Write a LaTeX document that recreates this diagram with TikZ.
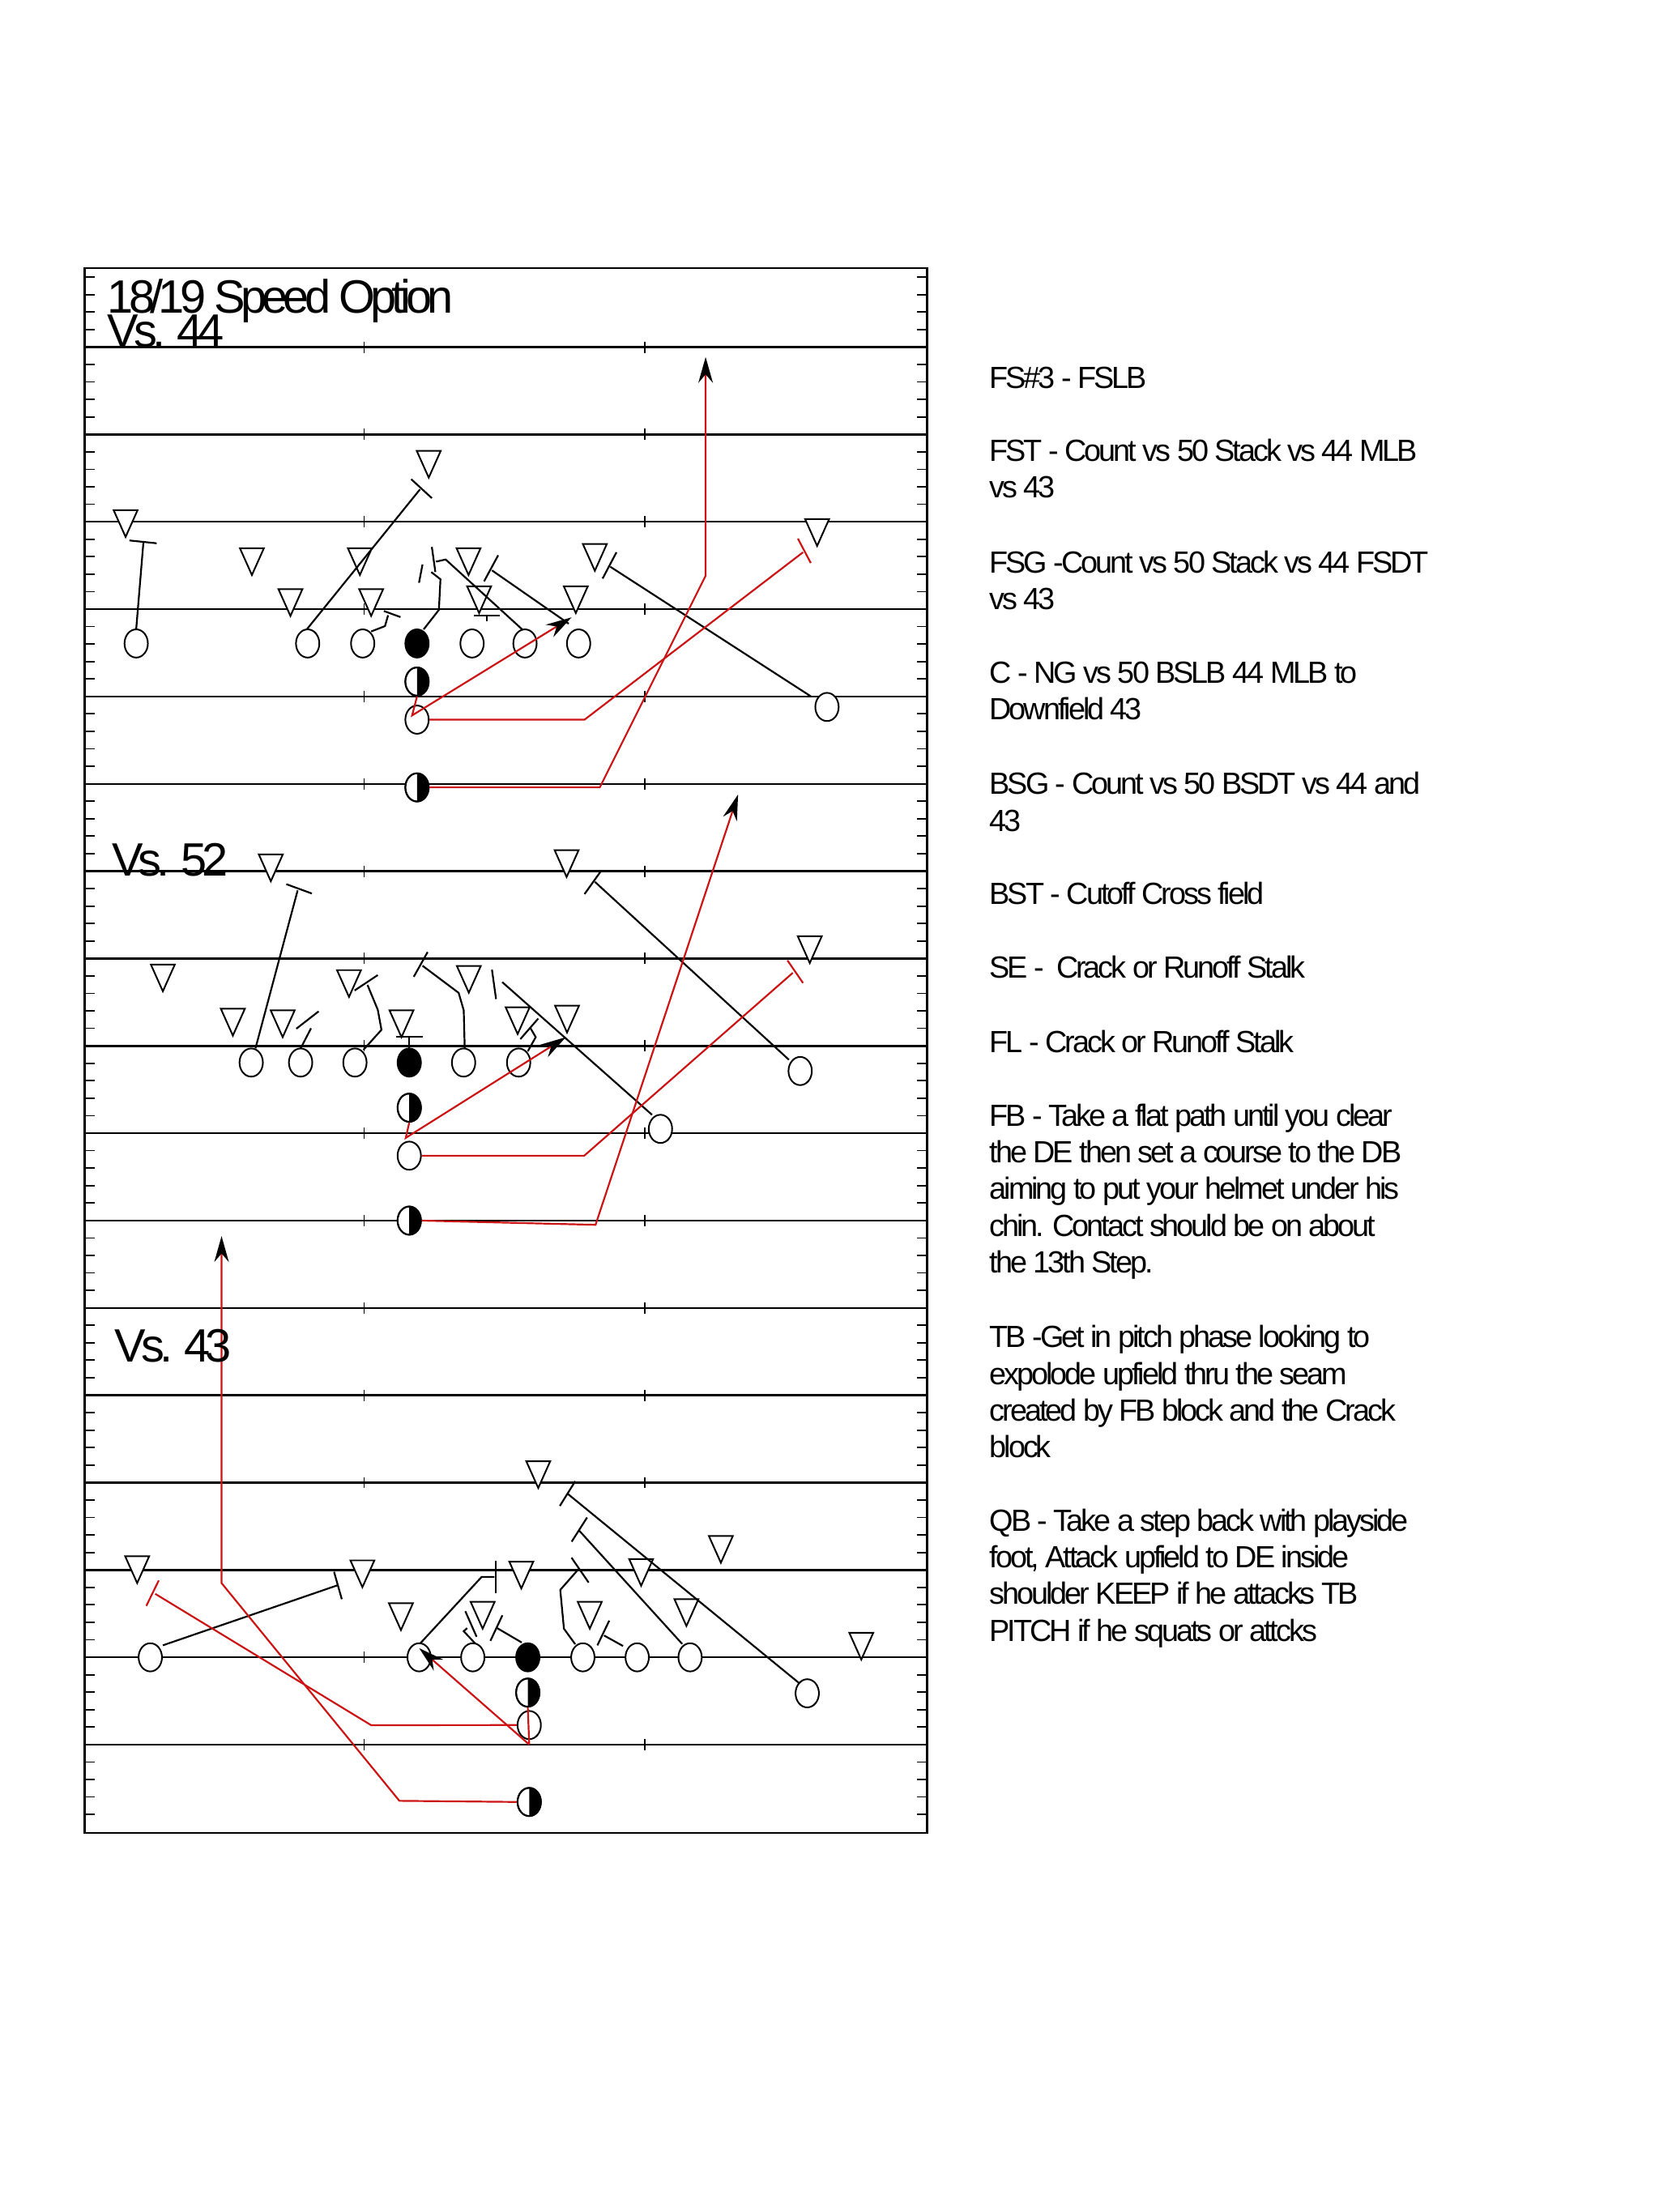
\documentclass[tikz,border=0pt]{standalone}
\usepackage{fontspec}
\setmainfont{Liberation Sans}
\newfontfamily\txtf{Liberation Sans}[LetterSpace=-8]
\newfontfamily\ttlf{Liberation Sans}[LetterSpace=-10]
\usetikzlibrary{shapes.geometric,arrows.meta}
\definecolor{rd}{RGB}{205,20,20}
\begin{document}
\begin{tikzpicture}[x=0.8752pt,y=-0.8752pt,
  pl/.style={ellipse,draw,line width=1pt,minimum width=14.5pt,minimum height=17.5pt,inner sep=0pt,fill=white},
  plf/.style={pl,fill=black},
  blk/.style={line width=1.1pt,black},
  red/.style={line width=1.1pt,rd},
  arr/.style={-{Stealth[length=16pt,width=9pt,black]}},
  txt/.style={anchor=base west,inner sep=0pt,font=\txtf\fontsize{19}{20}\selectfont},
  ttl/.style={anchor=base west,inner sep=0pt,font=\ttlf\fontsize{29}{30}\selectfont}]
\fill[white] (0,0) rectangle (1175.5,1567.6);
\useasboundingbox (0,0) rectangle (1175.5,1567.6);
\newcommand\halfp[3]{\node[pl] (#1) at (#2,#3) {};
  \begin{scope}\clip (#2,#3-12) rectangle (#2+10,#3+12);
  \fill (#1.center) ellipse [x radius=8.3,y radius=10];\end{scope}
  \draw[line width=1pt] (#1.center) ellipse [x radius=8.3,y radius=10];}
% field
\draw[line width=1.2pt] (60,190) rectangle (657,1299);
\foreach \k in {0,...,16}{
  \draw[line width=1.2pt] (60,246+61.9*\k) -- (657,246+61.9*\k);
  \draw[line width=0.9pt] (258,242+61.9*\k) -- (258,250+61.9*\k);
  \draw[line width=0.9pt] (457,242+61.9*\k) -- (457,250+61.9*\k);}
\foreach \k in {0,...,88}{
  \draw[line width=0.9pt] (60,196.4+12.38*\k) -- (67,196.4+12.38*\k);
  \draw[line width=0.9pt] (650,196.4+12.38*\k) -- (657,196.4+12.38*\k);}
% triangles
\newcommand\dtri[2]{\draw[line width=1pt,fill=white] (#1-8.5,#2-9.5) -- (#1+8.5,#2-9.5) -- (#1,#2+9.5) -- cycle;}
\foreach \x/\y in {89/371,303.8/329,178.5/398,255/398,332/398,421.5/395,579/377.4,205.8/427,263/427,339.5/425,408/425,
  191.9/615,401.5/612,573.8/673,115.4/693,247.3/697,332.2/694,165/724.4,200.3/725.5,284.5/725.5,366.8/723.3,401.8/722.2,
  381.4/1045,510.8/1098,97.2/1112.4,256.8/1115.3,369.4/1116.2,454.3/1114.3,284.1/1145.7,342/1144.7,417.9/1144.7,486.4/1142.8,610.3/1166.6}{\dtri{\x}{\y}}
% ===== Vs 44 =====
\draw[blk] (96.5,446) -- (101.6,384.5); \draw[blk] (91.7,383) -- (111,385);
\draw[blk] (217.4,446) -- (297.6,346.8); \draw[blk] (291.4,339.6) -- (306,353);
\draw[blk] (263,447.5) -- (272.8,443.7) -- (275,436); \draw[blk] (272,433) -- (283.8,437.3);
\draw[blk] (300.2,446) -- (311,432.2) -- (312.1,410.5) -- (305.6,405.4); \draw[blk] (299.4,400) -- (296.9,413);
\draw[blk] (370,446) -- (315.8,396.5) -- (309,398); \draw[blk] (306,387.6) -- (308.5,405.4);
\draw[blk] (345,436) -- (345,440); \draw[blk] (336,436) -- (354,436);
\draw[blk] (403,442) -- (348.6,404.2); \draw[blk] (343,412) -- (353,393.5);
\draw[blk] (574.6,493.5) -- (432.4,401.6); \draw[blk] (427,410) -- (436.8,391.4);
\node[pl] (a1) at (96.5,456) {}; \node[pl] (a2) at (218,456) {}; \node[pl] (a3) at (257,456) {};
\node[plf] (a4) at (295.5,456) {}; \node[pl] (a5) at (334.5,456) {}; \node[pl] (a6) at (372,456) {};
\node[pl] (a7) at (410,456) {}; \halfp{aq}{295.5}{483} \node[pl] (af) at (295.5,510) {};
\halfp{at}{295.5}{558} \node[pl] (afl) at (586,501) {};
\draw[red,arr] (aq.south) -- (292,507) -- (405,437.5);
\draw[red] (af.east) -- (414.2,510) -- (569,391.4); \draw[red] (565.4,381.7) -- (574.5,399);
\draw[red,arr] (at.east) -- (425,558) -- (500,408) -- (500,253);
% ===== Vs 52 =====
\draw[blk] (181,743) -- (210.9,631); \draw[blk] (202.9,626.6) -- (221,633.2);
\draw[blk] (213,743) -- (220.4,728.7); \draw[blk] (210,729) -- (225.8,716.7);
\draw[blk] (257.5,744) -- (270.3,729.8) -- (267.7,715.6) -- (260.4,698); \draw[blk] (251.3,701.9) -- (267.7,691);
\draw[blk] (290,743) -- (290,734.9); \draw[blk] (280.8,734.9) -- (299.8,734.9);
\draw[blk] (329.3,743) -- (328.6,716) -- (325,703.6) -- (299.4,684.4); \draw[blk] (293.2,692.2) -- (303,674.7);
\draw[blk] (374,745) -- (379.6,735) -- (376,728.8); \draw[blk] (368.7,736.4) -- (381.4,721.8);
\draw[blk] (462,790) -- (355.9,696); \draw[blk] (348.6,687.2) -- (351.5,708);
\draw[blk] (559,751) -- (421.5,624.9); \draw[blk] (414.2,633.6) -- (425.9,617.2);
\node[pl] (b1) at (178,753) {}; \node[pl] (b2) at (213,753) {}; \node[pl] (b3) at (251.5,753) {};
\node[plf] (b4) at (290,753) {}; \node[pl] (b5) at (328.5,753) {}; \node[pl] (b6) at (367.5,753) {};
\halfp{bq}{290}{785} \node[pl] (bf) at (290,819) {}; \halfp{bt}{290}{865}
\node[pl] (bo) at (468,800) {}; \node[pl] (bfl) at (567,759) {};
\draw[red,arr] (bq.south) -- (287.5,806.4) -- (401,735);
\draw[red] (bf.east) -- (414,819) -- (561.8,689.4); \draw[red] (558,680.6) -- (569,696.6);
\draw[red,arr] (bt.east) -- (422,868) -- (523,563);
% ===== Vs 43 =====
\draw[blk] (115.4,1166) -- (239.3,1123.4); \draw[blk] (236.7,1113.9) -- (242.2,1133.3);
\draw[blk] (296.5,1166) -- (341.3,1117.5) -- (350.4,1117.5); \draw[blk] (351.2,1106) -- (351.2,1129);
\draw[blk] (337,1165) -- (328.6,1156) -- (331,1153.8); \draw[blk] (329.7,1141.8) -- (337.7,1159.9);
\draw[blk] (369.7,1164) -- (352.3,1153.8); \draw[blk] (356,1144.7) -- (347.5,1162.8);
\draw[blk] (407.6,1165.2) -- (399.6,1154.2) -- (397,1126.7) -- (408.7,1113.4); \draw[blk] (405,1103.9) -- (417.1,1121.5);
\draw[blk] (441.5,1166.5) -- (428,1159); \draw[blk] (431.7,1148.5) -- (423.3,1166);
\draw[blk] (483.4,1165) -- (410.6,1084.9); \draw[blk] (416,1075.4) -- (405.1,1092.5);
\draw[blk] (569,1195) -- (402.5,1058.8); \draw[blk] (407.6,1049.7) -- (396.7,1067.2);
\node[pl] (c1) at (106.5,1174.5) {}; \node[pl] (c2) at (297,1174.5) {}; \node[pl] (c3) at (335,1174.5) {};
\node[plf] (c4) at (374,1174.5) {}; \node[pl] (c5) at (413,1174.5) {}; \node[pl] (c6) at (451.5,1174.5) {};
\node[pl] (c7) at (489,1174.5) {}; \halfp{cq}{374}{1199.5} \node[pl] (cf) at (375,1222.5) {};
\halfp{ct}{375}{1277} \node[pl] (co) at (572,1200) {};
\draw[red] (cq.south) -- (375,1236.3);
\draw[red,arr] (375,1236.3) -- (297,1168);
\draw[red] (cf.west) -- (263,1222.6) -- (110,1129.5); \draw[red] (103.7,1138) -- (112.5,1120);
\draw[red,arr] (ct.west) -- (283,1276.2) -- (157,1121.9) -- (157,876);
% ===== texts =====
\node[ttl] (t1) at (76,222) {18/19 Speed Option};
\node[ttl] (t2) at (76,246) {Vs. 44};
\node[ttl] (t3) at (79,621) {Vs. 52};
\node[ttl] (t4) at (81,965) {Vs. 43};
\foreach \y/\s in {268/{FS\#3 - FSLB},320/{FST - Count vs 50 Stack vs 44 MLB},346/{vs 43},
  399/{FSG -Count vs 50 Stack vs 44 FSDT},425/{vs 43},477/{C - NG vs 50 BSLB 44 MLB to},503/{Downfield 43},
  556/{BSG - Count vs 50 BSDT vs 44 and},582/{43},634/{BST - Cutoff Cross field},686/{SE -\ \ Crack or Runoff Stalk},
  739/{FL - Crack or Runoff Stalk},791/{FB - Take a flat path until you clear},817/{the DE then set a course to the DB},
  843/{aiming to put your helmet under his},869/{chin. Contact should be on about},895/{the 13th Step.},
  948/{TB -Get in pitch phase looking to},974/{expolode upfield thru the seam},1000/{created by FB block and the Crack},1026/{block},
  1078/{QB - Take a step back with playside},1104/{foot, Attack upfield to DE inside},1130/{shoulder KEEP if he attacks TB},1156/{PITCH if he squats or attcks}}
  {\node[txt] at (701,\y+7) {\s};}
\end{tikzpicture}
\end{document}
